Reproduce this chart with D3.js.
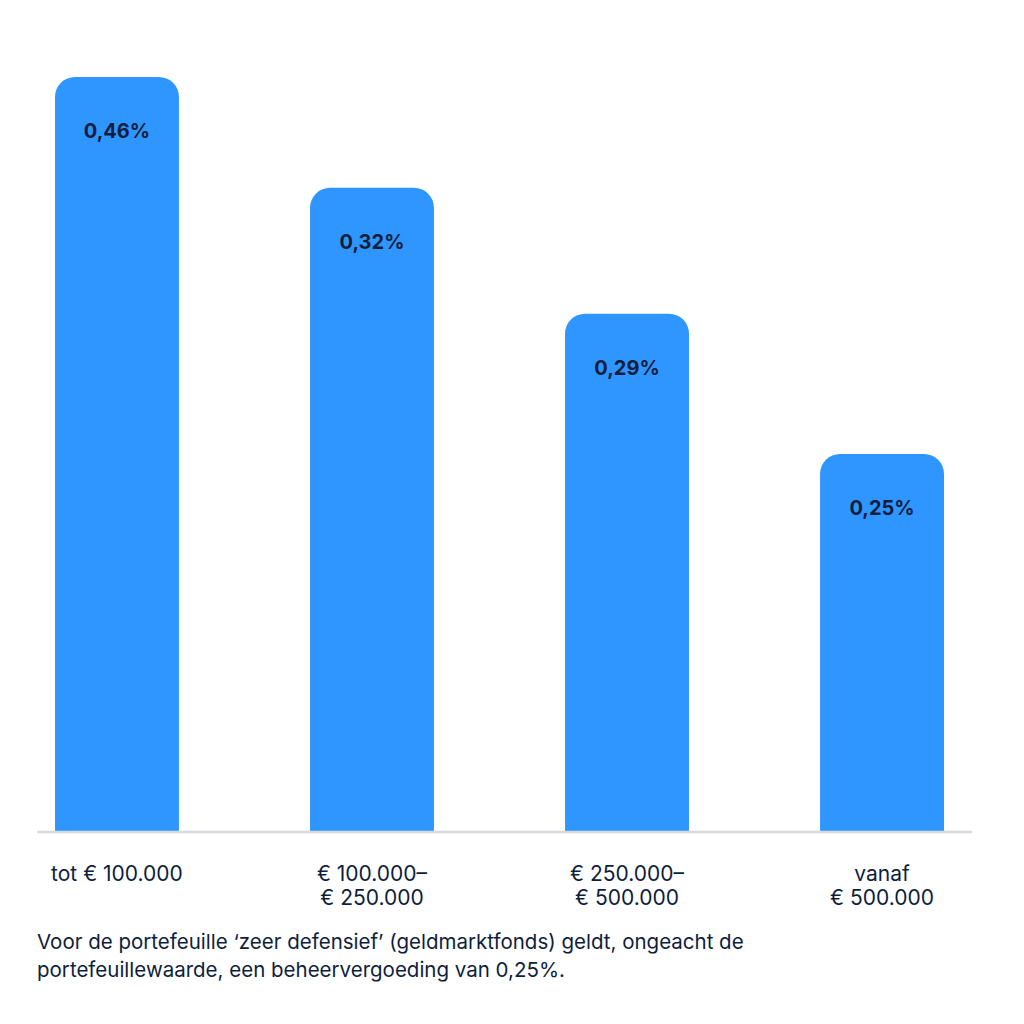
<!DOCTYPE html>
<html>
<head>
<meta charset="utf-8">
<script src="https://cdn.jsdelivr.net/npm/d3@7"></script>
<style>
  body { margin: 0; background: #fff; }
  text { font-family: Inter, "Noto Sans", sans-serif; }
</style>
</head>
<body>
<script>
var categories = ["tot € 100.000", "€ 100.000–|€ 250.000", "€ 250.000–|€ 500.000", "vanaf|€ 500.000"];
var valueLabels = ["0,46%", "0,32%", "0,29%", "0,25%"];
// visual bar height as drawn in the picture (relative, tallest = 100)
var barLevels = [100, 85.3, 68.6, 50];
var footnote = ["Voor de portefeuille ‘zeer defensief’ (geldmarktfonds) geldt, ongeacht de",
                "portefeuillewaarde, een beheervergoeding van 0,25%."];

var width = 1024, height = 1024, baseline = 831, radius = 20;

var svg = d3.select("body").append("svg")
    .attr("width", width)
    .attr("height", height);

var x = d3.scaleBand().domain(categories).range([55, 944]).paddingInner(0.514).paddingOuter(0);
var y = d3.scaleLinear().domain([0, 100]).range([baseline, 77]);

function barPath(x0, y0, w, y1) {
    var p = d3.path();
    p.moveTo(x0, y1);
    p.lineTo(x0, y0 + radius);
    p.arcTo(x0, y0, x0 + radius, y0, radius);
    p.lineTo(x0 + w - radius, y0);
    p.arcTo(x0 + w, y0, x0 + w, y0 + radius, radius);
    p.lineTo(x0 + w, y1);
    p.closePath();
    return p.toString();
}

svg.selectAll("path.bar")
    .data(categories)
    .enter().append("path")
    .attr("class", "bar")
    .attr("d", (c, i) => barPath(x(c), y(barLevels[i]), x.bandwidth(), baseline))
    .style("fill", "#3096ff");

svg.append("line")
    .attr("x1", 37).attr("x2", 972)
    .attr("y1", baseline + 1).attr("y2", baseline + 1)
    .style("stroke", "#d6d9de").style("stroke-width", 2.5);

svg.selectAll("text.val")
    .data(categories)
    .enter().append("text")
    .attr("class", "val")
    .attr("x", c => x(c) + x.bandwidth() / 2)
    .attr("y", (c, i) => y(barLevels[i]) + 61)
    .attr("text-anchor", "middle")
    .style("font-size", "20px").style("font-weight", "bold").style("fill", "#0e1e3c")
    .text((c, i) => valueLabels[i]);

categories.forEach(c => {
    var t = svg.append("text")
        .attr("text-anchor", "middle")
        .style("font-size", "21px").style("fill", "#0e1e3c");
    c.split("|").forEach((line, j) => {
        t.append("tspan")
            .attr("x", x(c) + x.bandwidth() / 2)
            .attr("y", 881 + j * 24)
            .text(line);
    });
});

footnote.forEach((line, j) => {
    svg.append("text")
        .attr("x", 37).attr("y", 949 + j * 28)
        .style("font-size", "20.5px").style("fill", "#0e1e3c")
        .text(line);
});
</script>
</body>
</html>
